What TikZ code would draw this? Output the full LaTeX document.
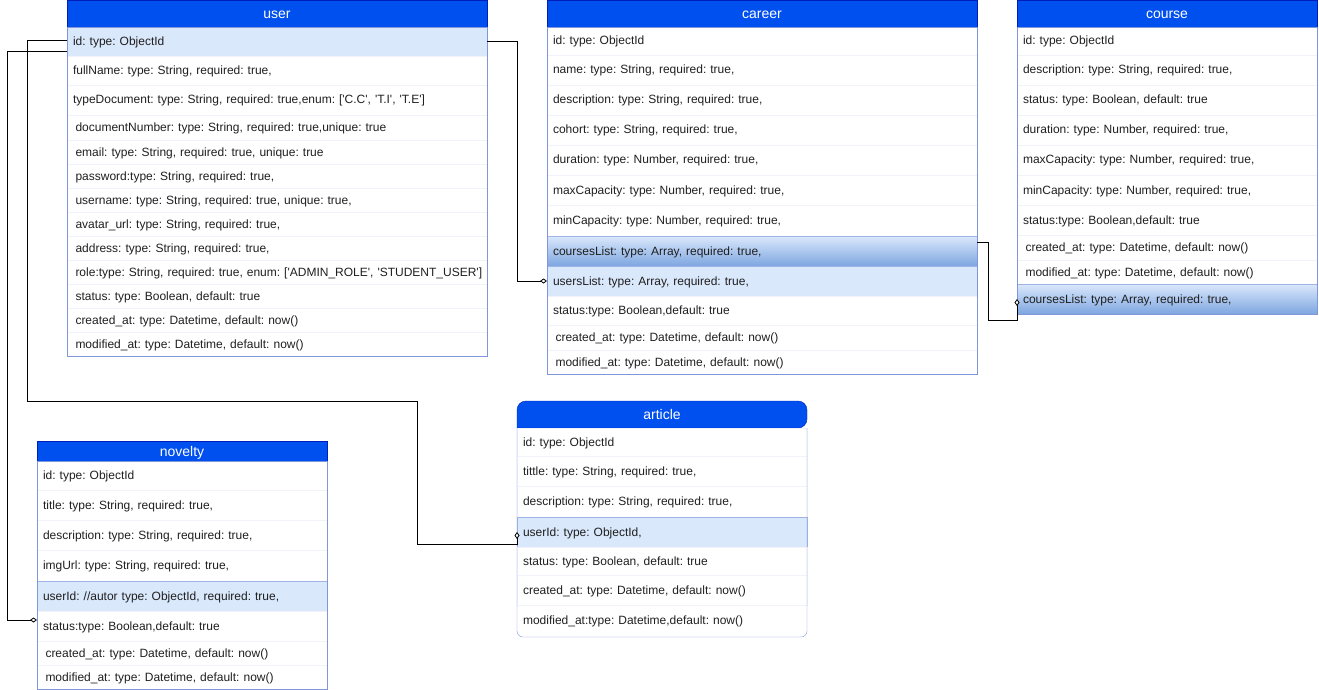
\documentclass[tikz,border=0pt]{standalone}
\usepackage{fontspec}
\setmainfont{Liberation Sans}
\usetikzlibrary{arrows.meta, positioning, backgrounds}

\definecolor{hdblue}{HTML}{0050EF}
\definecolor{hddark}{HTML}{001DBC}
\definecolor{tabline}{HTML}{7F96DA}
\definecolor{rowline}{HTML}{F0F3FB}
\definecolor{hiline}{HTML}{9FB3E6}
\definecolor{rowfill}{HTML}{DAE8FC}
\definecolor{listblue}{HTML}{7EA6E0}
\definecolor{txt}{HTML}{1F1F1F}

\frenchspacing
\newcommand{\fldfont}{\fontsize{12}{14}\selectfont}
\newcommand{\hdfont}{\fontsize{14}{16}\selectfont}
\newcommand{\sq}{\textquotesingle}
\newcommand{\ind}{\hspace*{2.5pt}}

\tikzset{
  ent/.style={fill=hdblue, draw=hddark, text=white, font=\hdfont,
    anchor=north west, minimum width=#1, minimum height=27pt,
    text height=12pt, text depth=2pt, inner sep=0pt, outer sep=0pt},
  fld/.style={draw=rowline, inner xsep=6pt, inner ysep=0pt, outer sep=0pt,
    text height=10pt, text depth=2pt, font=\fldfont, text=txt},
  rowh/.style={minimum height=#1},
  key/.style={fill=rowfill, draw=hiline},
  lst/.style={top color=rowfill, bottom color=listblue, draw=hiline},
  rel/.style={draw=black, line width=0.9pt,
    -{Diamond[open, fill=white, length=7pt, width=5pt, line width=0.8pt]}}
}

\begin{document}
\begin{tikzpicture}[x=1pt, y=-1pt]
  \useasboundingbox (0,0) rectangle (1319,690);

  % user
  \node[ent=420pt] (user) at (67,0) {user};
  \begin{scope}[fld/.append style={text width=408pt}]
    \node[fld, key, rowh=29pt, below=0pt of user] (user-id) {id: type: ObjectId};
    \node[fld, rowh=29pt, below=0pt of user-id] (user-fullName) {fullName: type: String, required: true,};
    \node[fld, rowh=30pt, below=0pt of user-fullName] (user-typeDocument) {typeDocument: type: String, required: true,enum: [\sq C.C\sq, \sq T.I\sq, \sq T.E\sq]};
    \node[fld, rowh=25pt, below=0pt of user-typeDocument] (user-documentNumber) {\ind documentNumber: type: String, required: true,unique: true};
    \node[fld, rowh=24pt, below=0pt of user-documentNumber] (user-email) {\ind email: type: String, required: true, unique: true};
    \node[fld, rowh=24pt, below=0pt of user-email] (user-password) {\ind password:type: String, required: true,};
    \node[fld, rowh=24pt, below=0pt of user-password] (user-username) {\ind username: type: String, required: true, unique: true,};
    \node[fld, rowh=24pt, below=0pt of user-username] (user-avatar) {\ind avatar\_url: type: String, required: true,};
    \node[fld, rowh=24pt, below=0pt of user-avatar] (user-address) {\ind address: type: String, required: true,};
    \node[fld, rowh=24pt, below=0pt of user-address] (user-role) {\ind\mbox{role:type: String, required: true, enum: [\sq ADMIN\_ROLE\sq, \sq STUDENT\_USER\sq]}};
    \node[fld, rowh=24pt, below=0pt of user-role] (user-status) {\ind status: type: Boolean, default: true};
    \node[fld, rowh=24pt, below=0pt of user-status] (user-created) {\ind created\_at: type: Datetime, default: now()};
    \node[fld, rowh=24pt, below=0pt of user-created] (user-modified) {\ind modified\_at: type: Datetime, default: now()};
  \end{scope}
  \draw[tabline] (user.south west) rectangle (user-modified.south east);

  % career
  \node[ent=430pt] (career) at (547,0) {career};
  \begin{scope}[fld/.append style={text width=418pt}]
    \node[fld, rowh=28pt, below=0pt of career] (career-id) {id: type: ObjectId};
    \node[fld, rowh=30pt, below=0pt of career-id] (career-name) {name: type: String, required: true,};
    \node[fld, rowh=30pt, below=0pt of career-name] (career-description) {description: type: String, required: true,};
    \node[fld, rowh=30pt, below=0pt of career-description] (career-cohort) {cohort: type: String, required: true,};
    \node[fld, rowh=30pt, below=0pt of career-cohort] (career-duration) {duration: type: Number, required: true,};
    \node[fld, rowh=30pt, below=0pt of career-duration] (career-maxCapacity) {maxCapacity: type: Number, required: true,};
    \node[fld, rowh=31pt, below=0pt of career-maxCapacity] (career-minCapacity) {minCapacity: type: Number, required: true,};
    \node[fld, lst, rowh=30pt, below=0pt of career-minCapacity] (career-coursesList) {coursesList: type: Array, required: true,};
    \node[fld, key, rowh=30pt, below=0pt of career-coursesList] (career-usersList) {usersList: type: Array, required: true,};
    \node[fld, rowh=29pt, below=0pt of career-usersList] (career-status) {status:type: Boolean,default: true};
    \node[fld, rowh=25pt, below=0pt of career-status] (career-created) {\ind created\_at: type: Datetime, default: now()};
    \node[fld, rowh=24pt, below=0pt of career-created] (career-modified) {\ind modified\_at: type: Datetime, default: now()};
  \end{scope}
  \draw[tabline] (career.south west) rectangle (career-modified.south east);

  % course
  \node[ent=300pt] (course) at (1017,0) {course};
  \begin{scope}[fld/.append style={text width=288pt}]
    \node[fld, rowh=28pt, below=0pt of course] (course-id) {id: type: ObjectId};
    \node[fld, rowh=30pt, below=0pt of course-id] (course-description) {description: type: String, required: true,};
    \node[fld, rowh=30pt, below=0pt of course-description] (course-status1) {status: type: Boolean, default: true};
    \node[fld, rowh=30pt, below=0pt of course-status1] (course-duration) {duration: type: Number, required: true,};
    \node[fld, rowh=30pt, below=0pt of course-duration] (course-maxCapacity) {maxCapacity: type: Number, required: true,};
    \node[fld, rowh=30pt, below=0pt of course-maxCapacity] (course-minCapacity) {minCapacity: type: Number, required: true,};
    \node[fld, rowh=30pt, below=0pt of course-minCapacity] (course-status2) {status:type: Boolean,default: true};
    \node[fld, rowh=25pt, below=0pt of course-status2] (course-created) {\ind created\_at: type: Datetime, default: now()};
    \node[fld, rowh=24pt, below=0pt of course-created] (course-modified) {\ind modified\_at: type: Datetime, default: now()};
    \node[fld, lst, rowh=30pt, below=0pt of course-modified] (course-coursesList) {coursesList: type: Array, required: true,};
  \end{scope}
  \draw[tabline] (course.south west) rectangle (course-coursesList.south east);

  % novelty
  \node[ent=290pt, minimum height=20pt] (novelty) at (37,441) {novelty};
  \begin{scope}[fld/.append style={text width=278pt}]
    \node[fld, rowh=29pt, below=0pt of novelty] (novelty-id) {id: type: ObjectId};
    \node[fld, rowh=30pt, below=0pt of novelty-id] (novelty-title) {title: type: String, required: true,};
    \node[fld, rowh=30pt, below=0pt of novelty-title] (novelty-description) {description: type: String, required: true,};
    \node[fld, rowh=31pt, below=0pt of novelty-description] (novelty-imgUrl) {imgUrl: type: String, required: true,};
    \node[fld, key, rowh=30pt, below=0pt of novelty-imgUrl] (novelty-userId) {userId: //autor type: ObjectId, required: true,};
    \node[fld, rowh=30pt, below=0pt of novelty-userId] (novelty-status) {status:type: Boolean,default: true};
    \node[fld, rowh=24pt, below=0pt of novelty-status] (novelty-created) {\ind created\_at: type: Datetime, default: now()};
    \node[fld, rowh=24pt, below=0pt of novelty-created] (novelty-modified) {\ind modified\_at: type: Datetime, default: now()};
  \end{scope}
  \draw[tabline] (novelty.south west) rectangle (novelty-modified.south east);

  % article
  \node[ent=290pt, fill=none, draw=none] (article) at (517,401) {article};
  \begin{pgfonlayer}{background}
    \filldraw[fill=hdblue, draw=hddark] (article.south west) [rounded corners=9pt]
      |- (article.north) -| (article.south east) [sharp corners] -- cycle;
  \end{pgfonlayer}
  \begin{scope}[fld/.append style={text width=278pt}]
    \node[fld, rowh=28pt, below=0pt of article] (article-id) {id: type: ObjectId};
    \node[fld, rowh=30pt, below=0pt of article-id] (article-tittle) {tittle: type: String, required: true,};
    \node[fld, rowh=31pt, below=0pt of article-tittle] (article-description) {description: type: String, required: true,};
    \node[fld, key, rowh=30pt, below=0pt of article-description] (article-userId) {userId: type: ObjectId,};
    \node[fld, rowh=28pt, below=0pt of article-userId] (article-status) {status: type: Boolean, default: true};
    \node[fld, rowh=30pt, below=0pt of article-status] (article-created) {created\_at: type: Datetime, default: now()};
    \node[fld, draw=none, rowh=30pt, below=0pt of article-created] (article-modified) {modified\_at:type: Datetime,default: now()};
  \end{scope}
  \draw[tabline, rounded corners=6pt] (article.south west) |- ([yshift=-2pt]article-modified.south)
    -| (article.south east);

  % relations
  \draw[rel] ([yshift=1.5pt]user-id.west) -- ++(-40,0) |- (417,401)
    |- ([yshift=-12pt]article-userId.west) -- (article-userId.west);
  \draw[rel] ([yshift=-10pt]user-id.west) -- ++(-60,0) |- ([yshift=6pt]novelty-status.west);
  \draw[rel] (user-id.east) -- ++(30,0) |- (career-usersList.west);
  \draw[rel] ([yshift=9pt]career-coursesList.east) -- ++(11,0)
    |- ([yshift=-21pt]course-coursesList.west) -- (course-coursesList.west);
\end{tikzpicture}
\end{document}
